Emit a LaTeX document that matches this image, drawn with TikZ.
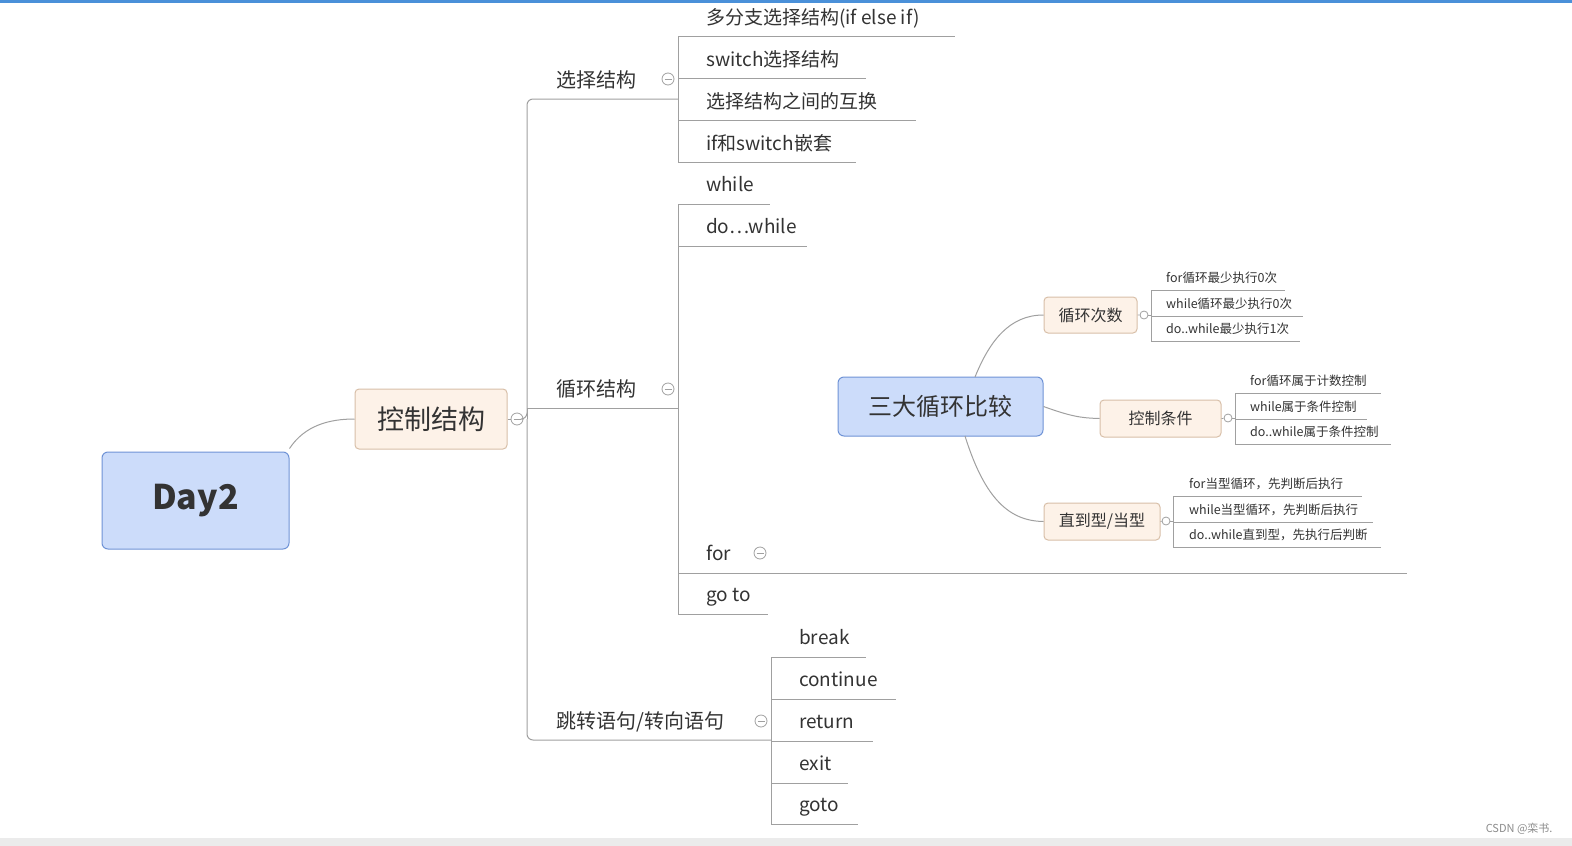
\documentclass[tikz,border=0pt]{standalone}
\usepackage{fontspec}
\setmainfont{Noto Sans CJK SC}
\definecolor{linegray}{HTML}{A0A0A0}
\definecolor{dayfill}{HTML}{CCDCFA}
\definecolor{daydraw}{HTML}{6F93D6}
\definecolor{topicfill}{HTML}{FDF2E8}
\definecolor{topicdraw}{HTML}{D8BFA8}
\definecolor{txt}{HTML}{333333}
\tikzset{
  branch/.style={draw=linegray,line width=1pt},
  leaftext/.style={anchor=base west,inner sep=0pt,text=txt,font=\fontsize{19}{19}\selectfont},
  smalltext/.style={anchor=base west,inner sep=0pt,text=txt,font=\fontsize{12.5}{12.5}\selectfont},
  topic/.style={draw=topicdraw,fill=topicfill,rounded corners=4pt,line width=1pt,text=txt,inner sep=0pt},
  central/.style={draw=daydraw,fill=dayfill,rounded corners=6pt,line width=1pt,inner sep=0pt},
  fold/.style={circle,draw=linegray,fill=white,minimum size=12pt,inner sep=0pt,line width=0.8pt,
    path picture={\draw[linegray,line width=0.8pt] ([xshift=-3.5pt]path picture bounding box.center) -- ([xshift=3.5pt]path picture bounding box.center);}},
  smallfold/.style={fold,minimum size=8pt,path picture={}}
}
\begin{document}
\begin{tikzpicture}[x=1pt,y=-1pt]
\useasboundingbox (0,0) rectangle (1572,846);
\fill[white] (0,0) rectangle (1572,846);
\draw[draw={rgb,255:red,74;green,144;blue,217},line width=3pt] (0,1) -- (1572,1);
\fill[black!8] (0,838) rectangle (1572,846);
\node[anchor=east,text=black!45,font=\fontsize{11}{11}\selectfont] (mark) at (1556,829) {CSDN @栾书.};

% root and main topic
\node[central,minimum width=187pt,minimum height=97pt,font=\fontsize{34}{34}\selectfont\bfseries,text=txt] (day) at (195.5,500.5) {Day2};
\node[topic,minimum width=152pt,minimum height=60pt,font=\fontsize{27}{27}\selectfont] (ctrl) at (431,419) {控制结构};
\draw[branch] (day.north east) ++(0,-3) coordinate (d1) .. controls (305,425) and (330,419) .. (ctrl.west);
\node[fold] (f0) at (517,419) {};
\draw[branch] (ctrl.east) -- (f0);
\coordinate (trunk) at (527,419);
\draw[branch,rounded corners=6pt] (f0.east) -- (trunk) -- (527,99) -- (678,99);
\draw[branch] (trunk) -- (527,408) -- (678,408);
\draw[branch,rounded corners=6pt] (trunk) -- (527,740) -- (771,740);

% first level
\node[leaftext,font=\fontsize{20}{20}\selectfont] (sel) at (556,87) {选择结构};
\node[leaftext,font=\fontsize{20}{20}\selectfont] (loop) at (556,396) {循环结构};
\node[leaftext,font=\fontsize{20}{20}\selectfont] (jump) at (556,728) {跳转语句/转向语句};
\node[fold] (f1) at (668,79) {};
\node[fold] (f2) at (668,389) {};
\node[fold] (f3) at (761,721) {};

% selection leaves
\draw[branch,rounded corners=6pt] (678,36) -- (678,162);
\foreach \t/\y/\e [count=\i] in {多分支选择结构(if else if)/36/955, switch选择结构/78/866,
    选择结构之间的互换/120/916, if和switch嵌套/162/856} {
  \node[leaftext] (sel-\i) at (706,\y-12) {\t};
  \draw[branch] (678,\y) -- (\e,\y);
}

% loop leaves
\draw[branch,rounded corners=6pt] (678,204) -- (678,614);
\foreach \t/\y/\e [count=\i] in {while/204/770, do…while/246/807, for/573/1407, go to/614/768} {
  \node[leaftext] (loop-\i) at (706,\y-13) {\t};
  \draw[branch] (678,\y) -- (\e,\y);
}
\node[fold] (f4) at (760,553) {};

% jump leaves
\draw[branch,rounded corners=6pt] (771,657) -- (771,824);
\foreach \t/\y/\e [count=\i] in {break/657/866, continue/699/896, return/741/873, exit/783/848, goto/824/858} {
  \node[leaftext] (jump-\i) at (799,\y-13) {\t};
  \draw[branch] (771,\y) -- (\e,\y);
}

% comparison of the three loops
\node[central,minimum width=205pt,minimum height=59pt,font=\fontsize{24}{24}\selectfont,text=txt] (cmp) at (940.5,406.5) {三大循环比较};
\node[topic,minimum width=93pt,minimum height=36pt,font=\fontsize{16}{16}\selectfont] (cnt) at (1090.5,315) {循环次数};
\node[topic,minimum width=121pt,minimum height=37pt,font=\fontsize{16}{16}\selectfont] (cond) at (1160.5,418.5) {控制条件};
\node[topic,minimum width=116pt,minimum height=37pt,font=\fontsize{16}{16}\selectfont] (kind) at (1102,521.5) {直到型/当型};
\draw[branch] (975,377) .. controls (990,340) and (1010,315) .. (cnt.west);
\draw[branch] (cmp.east) .. controls (1070,416) and (1080,418) .. (cond.west);
\draw[branch] (965,436) .. controls (985,500) and (1010,521) .. (kind.west);
\node[smallfold] (f5) at (1144,315) {};
\node[smallfold] (f6) at (1228,418) {};
\node[smallfold] (f7) at (1166,521) {};
\draw[branch,line width=0.7pt] (cnt.east) -- (f5) (cond.east) -- (f6) (kind.east) -- (f7);
\draw[branch,line width=0.7pt] (f5.east) -- (1151,315) (f6.east) -- (1235,418) (f7.east) -- (1173,521);

\draw[branch,line width=0.7pt,rounded corners=4pt] (1151,290) -- (1151,341);
\foreach \t/\y/\e [count=\i] in {for循环最少执行0次/290/1285, while循环最少执行0次/316/1303, do..while最少执行1次/341/1300} {
  \node[smalltext] (cnt-\i) at (1166,\y-8) {\t};
  \draw[branch,line width=0.7pt] (1151,\y) -- (\e,\y);
}
\draw[branch,line width=0.7pt,rounded corners=4pt] (1235,393) -- (1235,444);
\foreach \t/\y/\e [count=\i] in {for循环属于计数控制/393/1381, while属于条件控制/419/1367, do..while属于条件控制/444/1391} {
  \node[smalltext] (cond-\i) at (1250,\y-8) {\t};
  \draw[branch,line width=0.7pt] (1235,\y) -- (\e,\y);
}
\draw[branch,line width=0.7pt,rounded corners=4pt] (1173,496) -- (1173,547);
\foreach \t/\y/\e [count=\i] in {for当型循环，先判断后执行/496/1362, while当型循环，先判断后执行/522/1373, do..while直到型，先执行后判断/547/1381} {
  \node[smalltext] (kind-\i) at (1189,\y-8) {\t};
  \draw[branch,line width=0.7pt] (1173,\y) -- (\e,\y);
}
\end{tikzpicture}
\end{document}
